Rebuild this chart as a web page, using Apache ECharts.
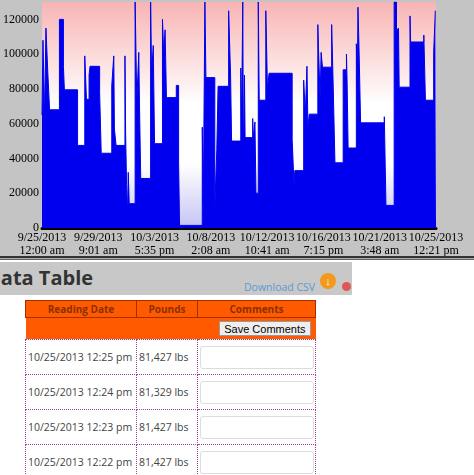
<!DOCTYPE html>
<html><head><meta charset="utf-8">
<script src="https://cdn.jsdelivr.net/npm/echarts@6/dist/echarts.min.js"></script>
<style>
body{margin:0;width:474px;height:475px;overflow:hidden;background:#fff;font-family:"Open Sans",sans-serif;position:relative}
#chart{position:absolute;left:0;top:0;width:474px;height:257px;background:#c4c4c4}
#sep{position:absolute;left:0;top:256px;width:474px;height:4px;border-top:2px solid #333;border-bottom:1px solid #666;background:#aaa;box-sizing:border-box}
#bar{position:absolute;left:0;top:262px;width:352px;height:33px;background:#c8c8c8}
#bar .t{position:absolute;left:-14px;top:2px;font-size:20px;font-weight:bold;color:#333}
#bar .d{position:absolute;left:244px;top:18px;font-size:10.5px;color:#5a9bd0}
#bar .o{position:absolute;left:320px;top:11px;width:16px;height:16px;border-radius:50%;background:#f39a1e;color:#fff;font-size:11px;text-align:center;line-height:16px;font-weight:bold}
#bar .r{position:absolute;left:342px;top:20px;width:9px;height:9px;border-radius:50%;background:#e05555}
table{position:absolute;left:25px;top:300px;width:291px;table-layout:fixed;border-collapse:collapse;font-size:10.5px;color:#444}
th{background:#ff5a00;color:#8a3000;font-size:10px;height:16px;border:1px solid #a03000;padding:0}
td{border:1px dotted #a040a0;height:34px;padding:0 2px;white-space:nowrap;overflow:hidden}
td.o{background:#ff5a00;height:21px;border:none;text-align:right}
button{font-size:11px;font-family:"Liberation Sans",sans-serif;padding:0 4px;height:15px;margin-right:3px;border:1px solid #999;background:#eee}
.in{width:112px;height:21px;border:1px solid #ddd;border-radius:3px}
</style></head><body>
<div id="chart"></div>
<div id="sep"></div>
<div id="bar"><span class="t">Data Table</span><span class="d">Download CSV</span><span class="o">&#8595;</span><span class="r"></span></div>
<table>
<tr><th style="width:110px">Reading Date</th><th style="width:60px">Pounds</th><th>Comments</th></tr>
<tr><td class="o" colspan="3"><button>Save Comments</button></td></tr>
<tr><td>10/25/2013 12:25 pm</td><td>81,427 lbs</td><td><div class="in"></div></td></tr>
<tr><td>10/25/2013 12:24 pm</td><td>81,329 lbs</td><td><div class="in"></div></td></tr>
<tr><td>10/25/2013 12:23 pm</td><td>81,427 lbs</td><td><div class="in"></div></td></tr>
<tr><td>10/25/2013 12:22 pm</td><td>81,427 lbs</td><td><div class="in"></div></td></tr>
</table>
<script>
// hours since 9/25/2013 12:00 am, each value holds until the next hour mark
const hours = [0,1.8,4.9,7.3,11.0,14.1,32.4,39.8,41.6,66.1,
  79.5,82.6,87.5,89.3,107.1,110.1,129.7,133.4,134.6,137.7,
  154.2,155.4,157.2,159.1,160.3,162.1,173.1,176.2,179.9,181.1,
  183.5,201.9,203.7,206.8,209.2,223.9,226.4,228.8,231.3,249.6,
  253.9,255.7,297.9,299.8,302.8,304.7,321.2,324.9,327.3,346.9,
  350.6,352.4,369.5,370.8,373.2,374.4,376.3,377.5,391.6,392.8,
  395.8,397.7,402.0,403.8,416.0,419.1,422.1,465.0,468.6,469.9,
  486.4,489.4,492.5,494.3,496.8,512.7,513.9,517.0,518.8,521.3,
  538.4,541.4,544.5,559.8,565.9,567.1,569.0,584.3,586.1,587.3,
  589.2,592.2,636.3,639.3,654.6,658.9,662.6,663.9,684.0,685.2,
  709.7,712.7,728.0,731.1,732.35];
const pounds = [65000,108000,65000,115000,88000,68000,120000,93000,79500,47500,
  99000,74000,88000,93000,78000,43000,82000,99000,57000,47500,
  99000,55000,25000,8000,32000,14000,130000,73000,101000,73000,
  28500,130000,88000,105000,48500,120000,100000,114000,75000,82000,
  38000,1500,58000,14000,130000,86500,12000,45000,81500,125000,
  87000,50000,92000,58000,130000,39000,88000,52000,63000,52000,
  61000,20000,130000,73500,125000,80000,89000,51000,24000,33000,
  85000,65500,93000,58000,65500,117000,103000,75000,101000,92500,
  117000,80000,37500,91000,100000,84000,46000,106000,80000,127000,
  104000,60500,64000,13000,130000,113000,115000,81000,122000,107000,
  111000,73500,101000,125000,125000];
const tickLabels = ['9/25/2013\n12:00 am','9/29/2013\n9:01 am','10/3/2013\n5:35 pm','10/8/2013\n2:08 am',
  '10/12/2013\n10:41 am','10/16/2013\n7:15 pm','10/21/2013\n3:48 am','10/25/2013\n12:21 pm'];
const spanH = 732.35;

const chart = echarts.init(document.getElementById('chart'));
chart.setOption({
  animation: false,
  grid: {left: 37, right: 38, top: 2, bottom: 28, show: true, borderWidth: 0,
    backgroundColor: new echarts.graphic.LinearGradient(0, 0, 0, 1, [
      {offset: 0, color: '#f8b4b4'}, {offset: 0.45, color: '#ffffff'}, {offset: 0.72, color: '#ffffff'}, {offset: 1, color: '#c4c4f4'}])},
  xAxis: {type: 'value', min: 0, max: spanH, interval: spanH / 7,
    axisLine: {lineStyle: {color: '#000', width: 3}}, axisTick: {show: false}, splitLine: {show: false},
    axisLabel: {formatter: v => tickLabels[Math.round(v / (spanH / 7))], color: '#000', fontFamily: 'Liberation Serif',
      fontSize: 12, lineHeight: 13, margin: 3, showMinLabel: true, showMaxLabel: true, hideOverlap: false}},
  yAxis: {type: 'value', min: 0, max: 130000, interval: 20000,
    axisLine: {show: false}, axisTick: {show: false}, splitLine: {show: false},
    axisLabel: {formatter: v => String(v), color: '#000', fontFamily: 'Liberation Serif', fontSize: 12, margin: 3, showMaxLabel: false}},
  series: [{type: 'line', step: 'end', symbol: 'none',
    data: hours.map((h, i) => [h, pounds[i]]),
    lineStyle: {color: '#0000ee', width: 1}, areaStyle: {color: '#0000ee', opacity: 1}}]
});
</script>
</body></html>
